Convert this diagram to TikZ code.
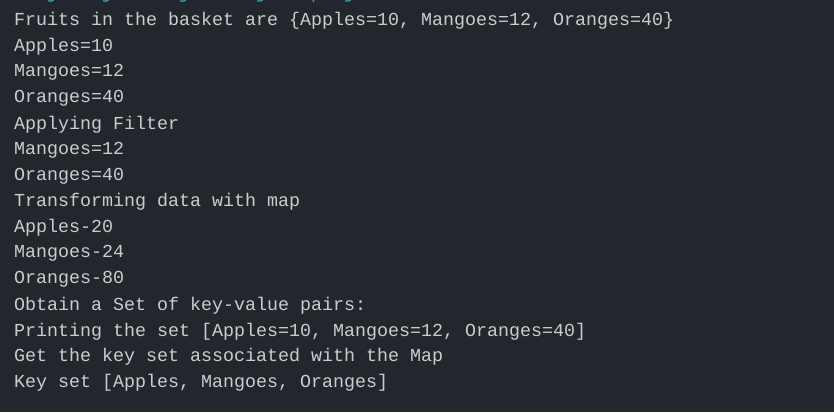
\documentclass[tikz,border=0pt]{standalone}
\usepackage{fontspec}
\setmonofont{Liberation Mono}
\definecolor{bg}{HTML}{23262C}
\definecolor{fg}{HTML}{CCCCCC}
\definecolor{cy}{HTML}{3BA7C4}
\begin{document}
\begin{tikzpicture}[x=1pt,y=-1pt,
  ln/.style={anchor=west,inner sep=0pt,text=fg,font=\fontsize{18.33}{20}\selectfont\ttfamily}]
\useasboundingbox (0,0) rectangle (834,412);
\fill[bg] (0,0) rectangle (834,412);
\begin{scope}
\clip (0,0) rectangle (834,412);
\node[ln,text=cy] (l0) at (14,-6) {c:\textbackslash java\textbackslash jdt\_ws\textbackslash jatvis java project\textbackslash bin> amco};
\end{scope}
\foreach \t [count=\i from 0] in {
 {Fruits in the basket are \{Apples=10, Mangoes=12, Oranges=40\}},
 {Apples=10},{Mangoes=12},{Oranges=40},{Applying Filter},{Mangoes=12},{Oranges=40},
 {Transforming data with map},{Apples-20},{Mangoes-24},{Oranges-80},
 {Obtain a Set of key-value pairs:},
 {Printing the set [Apples=10, Mangoes=12, Oranges=40]},
 {Get the key set associated with the Map},
 {Key set [Apples, Mangoes, Oranges]}}
 \node[ln] (r\i) at (14,{21+25.86*\i}) {\t};
\end{tikzpicture}
\end{document}
